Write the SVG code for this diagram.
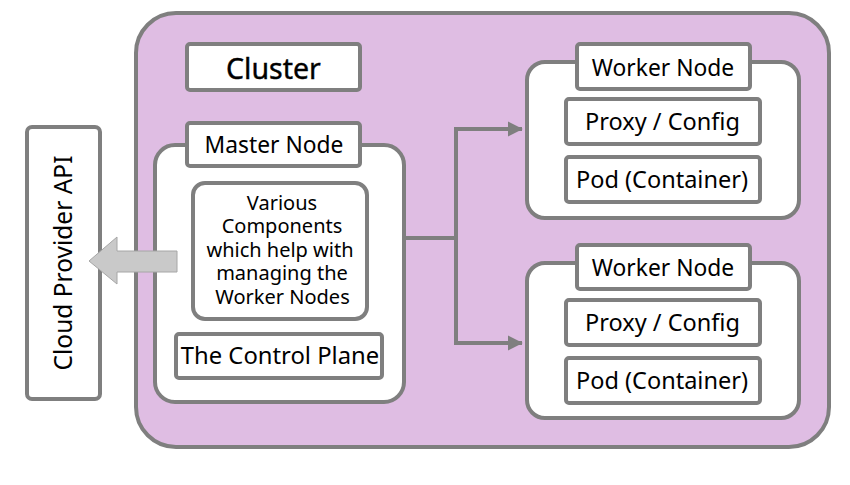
<svg xmlns="http://www.w3.org/2000/svg" width="850" height="485" viewBox="0 0 850 485">
<defs>
<style>
.box{fill:#fff;stroke:#7f7f7f;stroke-width:4}
.t{font-family:"Noto Sans","Open Sans",sans-serif;fill:#000;text-anchor:middle}
.conn{fill:none;stroke:#7f7f7f;stroke-width:4}
</style>
<marker id="ah" markerWidth="4" markerHeight="4" refX="3.6" refY="1.9" orient="auto" markerUnits="strokeWidth">
<path d="M0,0 L3.8,1.9 L0,3.8 z" fill="#7f7f7f"/>
</marker>
</defs>
<rect width="850" height="485" fill="#fff"/>
<g id="cluster">
<rect x="136" y="13" width="693" height="434" rx="40" fill="#dfbde3" stroke="#7f7f7f" stroke-width="4"/>
<rect class="box" x="187" y="44" width="173" height="46" rx="3"/>
<text class="t" x="273.5" y="79" font-size="28.5" stroke="#000" stroke-width="0.4">Cluster</text>
</g>
<g id="cloud-provider">
<rect class="box" x="27" y="127" width="73" height="272" rx="5"/>
<text class="t" x="0" y="0" font-size="24.5" transform="translate(72,263) rotate(-90)">Cloud Provider API</text>
</g>
<g id="master-node">
<rect class="box" x="155" y="145" width="249" height="257" rx="20"/>
<rect class="box" x="187" y="123" width="173" height="43" rx="3"/>
<text class="t" x="274" y="153" font-size="22.8">Master Node</text>
<rect class="box" x="193" y="183" width="174" height="136" rx="12"/>
<text class="t" font-size="20"><tspan x="282" y="209.5">Various</tspan><tspan x="282" y="233">Components</tspan><tspan x="280" y="256.5">which help with</tspan><tspan x="282" y="280">managing the</tspan><tspan x="282.5" y="303.5">Worker Nodes</tspan></text>
<rect class="box" x="176" y="334" width="206" height="44" rx="3"/>
<text class="t" x="280" y="364" font-size="23.8">The Control Plane</text>
</g>
<g id="worker-1">
<rect class="box" x="527" y="62" width="272" height="156" rx="18"/>
<rect class="box" x="577" y="44" width="173" height="45" rx="3"/>
<text class="t" x="663" y="76" font-size="22.8">Worker Node</text>
<rect class="box" x="566" y="99" width="194" height="45" rx="3"/>
<text class="t" x="662.5" y="130" font-size="23.5">Proxy / Config</text>
<rect class="box" x="566" y="157" width="194" height="45" rx="3"/>
<text class="t" x="662" y="188" font-size="23.5">Pod (Container)</text>
</g>
<g id="worker-2">
<rect class="box" x="527" y="263" width="272" height="155" rx="18"/>
<rect class="box" x="577" y="245" width="173" height="44" rx="3"/>
<text class="t" x="663" y="276" font-size="22.8">Worker Node</text>
<rect class="box" x="566" y="300" width="194" height="45" rx="3"/>
<text class="t" x="662.5" y="331" font-size="23.5">Proxy / Config</text>
<rect class="box" x="566" y="358" width="194" height="45" rx="3"/>
<text class="t" x="662" y="389" font-size="23.5">Pod (Container)</text>
</g>
<g id="connectors">
<path class="conn" d="M405,238 H456 V129 H522" marker-end="url(#ah)"/>
<path class="conn" d="M456,238 V343 H522" marker-end="url(#ah)"/>
<path d="M177,251 H117 V237 L89,261 L117,284 V272 H177 Z" fill="#c9c9c9" stroke="#a6a6a6" stroke-width="1"/>
</g>
</svg>
